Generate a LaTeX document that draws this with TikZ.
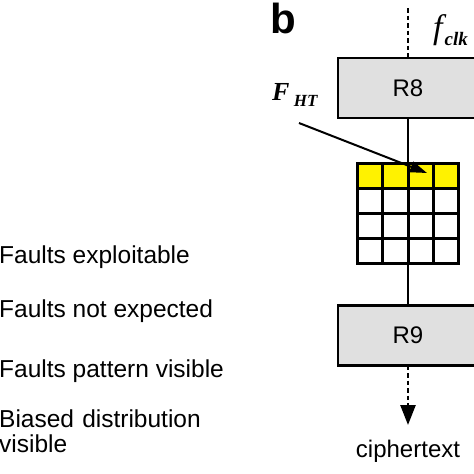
\documentclass[tikz,border=0pt]{standalone}
\usepackage{fontspec}
\setmainfont{Liberation Sans}
\newfontfamily\tnr{Liberation Serif}
\usetikzlibrary{arrows.meta}
\definecolor{boxgray}{HTML}{E0E0E0}
\definecolor{cellyellow}{HTML}{FFF200}
\begin{document}
\begin{tikzpicture}[x=1pt,y=-1pt,
  roundbox/.style={draw, line width=2.5pt, fill=boxgray, minimum width=140pt, minimum height=60pt, inner sep=0pt, outer sep=0pt, font=\fontsize{24}{27}\selectfont},
  lbl/.style={anchor=base west, inner sep=0pt, font=\fontsize{24.5}{27}\selectfont, align=left},
  cell/.style={draw, line width=3pt, minimum width=25.25pt, minimum height=25pt, inner sep=0pt, outer sep=0pt, fill=white},
  wire/.style={line width=2pt},
  dots/.style={line width=2.5pt, dash pattern=on 4.5pt off 3pt}]
\useasboundingbox (0,0) rectangle (474,474);

% left labels
\node[lbl] (l1) at (-1,263) {Faults exploitable};
\node[lbl] (l2) at (-1,317) {Faults not expected};
\node[lbl] (l3) at (-1,377) {Faults pattern visible};
\node[lbl, text width=240pt] (l4) at (-1,427) {Biased distribution\\[-2pt]visible};

% panel letter
\node[anchor=base west, inner sep=0pt, font=\bfseries\fontsize{42}{42}\selectfont] (blabel) at (270,33) {b};

% boxes
\node[roundbox] (r8) at (408,88) {R8};
\node[roundbox] (r9) at (408,335.5) {R9};

% grid
\foreach \r in {0,...,3}{
  \foreach \c in {0,...,3}{
    \ifnum\r=0
      \node[cell, fill=cellyellow] (c\r\c) at ({357.5+12.625+25.25*\c},{163+12.5+25*\r}) {};
    \else
      \node[cell] (c\r\c) at ({357.5+12.625+25.25*\c},{163+12.5+25*\r}) {};
    \fi
  }
}

\draw[wire] (r8.south) -- (c02.north west);
\draw[wire] (c32.south west) -- (r9.north);

% clock input
\coordinate (clkin) at (408,8);
\draw[dots] (clkin) -- (r8.north);
\node[anchor=base west, inner sep=0pt] (fclk) at (433,38)
  {\tnr\itshape\fontsize{34}{34}\selectfont f\hspace{2pt}\raisebox{-7pt}{\fontsize{19}{19}\selectfont\bfseries clk}};

% fault injection
\node[anchor=base west, inner sep=0pt] (fht) at (272,100)
  {\tnr\itshape\bfseries\fontsize{26}{26}\selectfont F\,\raisebox{-6pt}{\fontsize{17}{17}\selectfont HT}};
\coordinate (fstart) at (299,123);
\coordinate (ftip) at (427,173);
\draw[wire, -{Triangle[length=17pt,width=11pt]}] (fstart) -- (ftip);

% output
\coordinate (out) at (408,425);
\draw[dots, -{Triangle[length=20pt,width=15pt]}] (r9.south) -- (out);
\node[anchor=base, inner sep=0pt, font=\fontsize{24}{27}\selectfont] (ct) at (408,457) {ciphertext};
\end{tikzpicture}
\end{document}
